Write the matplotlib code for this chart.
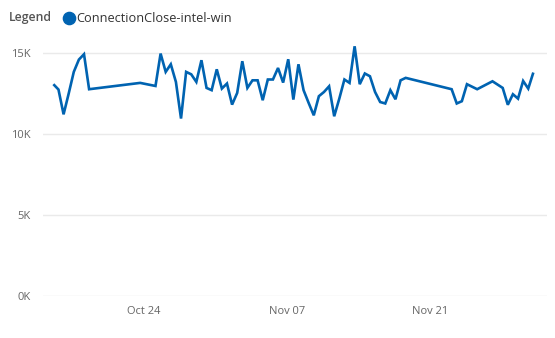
"""Twice-daily ConnectionClose-intel-win results, Azure-style line chart."""

import matplotlib
matplotlib.use("Agg")
import matplotlib.pyplot as plt
import matplotlib.dates as mdates
from matplotlib.ticker import FixedLocator, FuncFormatter
import pandas as pd

SERIES_NAME = "ConnectionClose-intel-win"

timestamps = [
    "2023-10-15 03:00", "2023-10-15 15:00", "2023-10-16 03:00", "2023-10-16 15:00",
    "2023-10-17 03:00", "2023-10-17 15:00", "2023-10-18 03:00", "2023-10-18 15:00",
    "2023-10-23 15:00",
    "2023-10-25 03:00", "2023-10-25 15:00", "2023-10-26 03:00", "2023-10-26 15:00",
    "2023-10-27 03:00", "2023-10-27 15:00", "2023-10-28 03:00", "2023-10-28 15:00",
    "2023-10-29 03:00", "2023-10-29 15:00", "2023-10-30 03:00", "2023-10-30 15:00",
    "2023-10-31 03:00", "2023-10-31 15:00", "2023-11-01 03:00", "2023-11-01 15:00",
    "2023-11-02 03:00", "2023-11-02 15:00", "2023-11-03 03:00", "2023-11-03 15:00",
    "2023-11-04 03:00", "2023-11-04 15:00", "2023-11-05 03:00", "2023-11-05 15:00",
    "2023-11-06 03:00", "2023-11-06 15:00", "2023-11-07 03:00", "2023-11-07 15:00",
    "2023-11-08 03:00", "2023-11-08 15:00", "2023-11-09 03:00", "2023-11-09 15:00",
    "2023-11-10 03:00", "2023-11-10 15:00", "2023-11-11 03:00", "2023-11-11 15:00",
    "2023-11-12 03:00", "2023-11-12 15:00", "2023-11-13 03:00", "2023-11-13 15:00",
    "2023-11-14 03:00", "2023-11-14 15:00", "2023-11-15 03:00", "2023-11-15 15:00",
    "2023-11-16 03:00", "2023-11-16 15:00", "2023-11-17 03:00", "2023-11-17 15:00",
    "2023-11-18 03:00", "2023-11-18 15:00",
    "2023-11-23 03:00", "2023-11-23 15:00", "2023-11-24 03:00", "2023-11-24 15:00",
    "2023-11-25 15:00", "2023-11-27 03:00", "2023-11-28 03:00", "2023-11-28 15:00",
    "2023-11-29 03:00", "2023-11-29 15:00", "2023-11-30 03:00", "2023-11-30 15:00",
    "2023-12-01 03:00",
]

values = [
    13090, 12760, 11230, 12510, 13850, 14610, 14940, 12780,
    13170,
    12980, 14980, 13850, 14320, 13230, 10970, 13850, 13700, 13230,
    14570, 12860, 12720, 14010, 12820, 13130, 11830, 12550, 14510,
    12860, 13330, 13330, 12100, 13380, 13380, 14090, 13190, 14630,
    12140, 14320, 12720, 11930, 11170, 12350, 12610, 12960, 11110,
    12200, 13380, 13170, 15430, 13090, 13750, 13580, 12610, 11990,
    11900, 12720, 12160, 13330, 13480,
    12780, 11900, 12040, 13090, 12780, 13270, 12860, 11820, 12470,
    12200, 13290, 12820, 13810,
]

x_ticks = ["2023-10-24", "2023-11-07", "2023-11-21"]
y_ticks = [0, 5000, 10000, 15000]

LINE_COLOR = "#0063B1"
GRID_COLOR = "#EAEAEA"
TICK_COLOR = "#666666"

plt.rcParams["font.family"] = ["Open Sans", "DejaVu Sans"]

t = pd.to_datetime(timestamps)

fig = plt.figure(figsize=(5.55, 3.38), dpi=100)
ax = fig.add_axes([0.0775, 0.1234, 0.908, 0.767])

ax.plot(t, values, color=LINE_COLOR, lw=1.9, solid_joinstyle="miter",
        solid_capstyle="butt")

ax.set_xlim(pd.Timestamp("2023-10-14 02:40"), pd.Timestamp("2023-12-02 11:00"))
ax.set_ylim(0, 16000)

ax.yaxis.set_major_locator(FixedLocator(y_ticks))
ax.yaxis.set_major_formatter(FuncFormatter(lambda v, _: f"{v / 1000:.0f}K"))
ax.set_xticks(pd.to_datetime(x_ticks))
ax.xaxis.set_major_formatter(mdates.DateFormatter("%b %d"))

ax.grid(axis="y", color=GRID_COLOR, lw=1.0)
ax.set_axisbelow(True)
for side in ax.spines.values():
    side.set_visible(False)
ax.tick_params(axis="both", length=0, colors=TICK_COLOR, labelsize=8)
ax.tick_params(axis="y", pad=9)
ax.tick_params(axis="x", pad=7)

# legend strip along the top
fig.text(9 / 555, 1 - 18 / 338, "Legend", fontsize=8.8, color="#555555",
         fontweight="semibold", ha="left", va="center")
fig.lines.append(plt.Line2D([68.5 / 555], [1 - 18 / 338], marker="o", ms=8.8,
                            color=LINE_COLOR, transform=fig.transFigure))
fig.text(76 / 555, 1 - 18 / 338, SERIES_NAME, fontsize=9.2, color="#333333",
         ha="left", va="center")

fig.savefig("out.png", dpi=100)
